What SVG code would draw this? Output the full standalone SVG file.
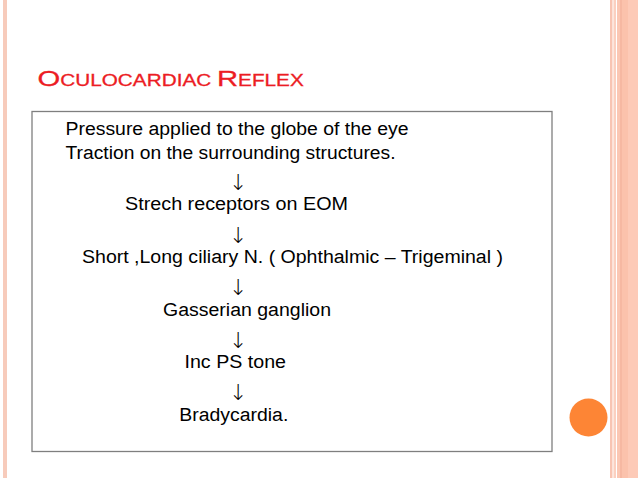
<svg xmlns="http://www.w3.org/2000/svg" width="638" height="478" viewBox="0 0 638 478">
<style>
.body{font-family:"Liberation Sans",Arial,sans-serif;font-size:18px;fill:#000}
.arr{font-family:"DejaVu Sans",sans-serif;font-size:22px;font-weight:200;fill:#000;text-anchor:middle}
.title{font-family:"Liberation Sans",Arial,sans-serif;fill:#ec1c24}
</style>
<rect width="638" height="478" fill="#ffffff"/>
<g id="decor">
<rect x="3" y="0" width="4" height="478" fill="#f7cbbb"/>
<rect x="610" y="0" width="2.5" height="478" fill="#f8c4b2"/>
<rect x="612.5" y="0" width="1.5" height="478" fill="#fde6dc"/>
<rect x="614" y="0" width="2" height="478" fill="#fbd0c0"/>
<rect x="617" y="0" width="3" height="478" fill="#fbc7b3"/>
<rect x="620" y="0" width="2" height="478" fill="#f6b8a2"/>
<rect x="622" y="0" width="6" height="478" fill="#fbc2ac"/>
<rect x="628" y="0" width="10" height="478" fill="#fdcab7"/>
<circle cx="588.5" cy="417.5" r="19" fill="#fd8535"/>
</g>
<g id="title" transform="translate(37.5,86) scale(1.33,1)">
<text class="title" x="0" y="0" stroke="#ec1c24" stroke-width="0.3"><tspan font-size="22">O</tspan><tspan font-size="15.6">CULOCARDIAC </tspan><tspan font-size="22">R</tspan><tspan font-size="15.6">EFLEX</tspan></text>
</g>
<g id="box">
<rect x="32" y="111.5" width="520" height="340" fill="none" stroke="#7f7f7f" stroke-width="1.3"/>
</g>
<g id="n1"><text class="body" x="65.5" y="135" textLength="343" lengthAdjust="spacingAndGlyphs">Pressure applied to the globe of the eye</text></g>
<g id="n2"><text class="body" x="65.5" y="159" textLength="330" lengthAdjust="spacingAndGlyphs">Traction on the surrounding structures.</text></g>
<g id="n3"><text class="body" x="125" y="210" textLength="223" lengthAdjust="spacingAndGlyphs">Strech receptors on EOM</text></g>
<g id="n4"><text class="body" x="82" y="263" textLength="421" lengthAdjust="spacingAndGlyphs">Short ,Long ciliary N. ( Ophthalmic – Trigeminal )</text></g>
<g id="n5"><text class="body" x="163" y="315.5" textLength="168" lengthAdjust="spacingAndGlyphs">Gasserian ganglion</text></g>
<g id="n6"><text class="body" x="184.5" y="368" textLength="101.5" lengthAdjust="spacingAndGlyphs">Inc PS tone</text></g>
<g id="n7"><text class="body" x="179.3" y="421" textLength="109" lengthAdjust="spacingAndGlyphs">Bradycardia.</text></g>
<g id="connectors">
<text class="arr" x="238" y="189.5">↓</text>
<text class="arr" x="238" y="242.5">↓</text>
<text class="arr" x="238" y="295">↓</text>
<text class="arr" x="238" y="347.5">↓</text>
<text class="arr" x="238" y="400">↓</text>
</g>
</svg>
